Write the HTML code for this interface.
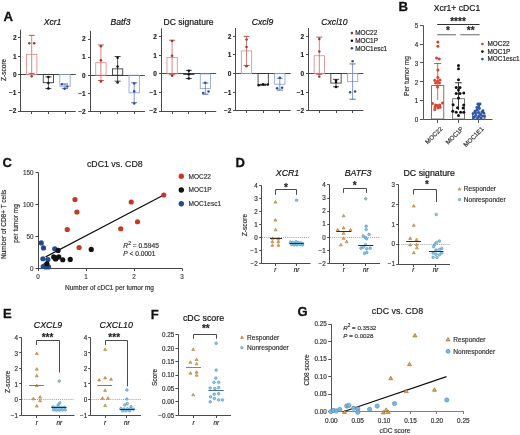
<!DOCTYPE html>
<html><head><meta charset="utf-8"><style>
html,body{margin:0;padding:0;background:#fff;}
svg{display:block;font-family:"Liberation Sans", sans-serif;will-change:transform;}
</style></head><body>
<svg width="520" height="435" viewBox="0 0 520 435">
<rect width="520" height="435" fill="#fff"/>
<line x1="20.5" y1="29.664999999999992" x2="20.5" y2="112.0" stroke="#4a4a4a" stroke-width="1.0"/>
<line x1="18.0" y1="37.5" x2="20.5" y2="37.5" stroke="#4a4a4a" stroke-width="1.0"/>
<text x="16.5" y="40.199999999999996" font-size="6.5" text-anchor="end" font-weight="bold" fill="#222" stroke="#222" stroke-width="0.15">2</text>
<line x1="18.0" y1="56.5" x2="20.5" y2="56.5" stroke="#4a4a4a" stroke-width="1.0"/>
<text x="16.5" y="58.5" font-size="6.5" text-anchor="end" font-weight="bold" fill="#222" stroke="#222" stroke-width="0.15">1</text>
<line x1="18.0" y1="74.5" x2="20.5" y2="74.5" stroke="#4a4a4a" stroke-width="1.0"/>
<text x="16.5" y="76.8" font-size="6.5" text-anchor="end" font-weight="bold" fill="#222" stroke="#222" stroke-width="0.15">0</text>
<line x1="18.0" y1="92.5" x2="20.5" y2="92.5" stroke="#4a4a4a" stroke-width="1.0"/>
<text x="16.5" y="95.1" font-size="6.5" text-anchor="end" font-weight="bold" fill="#222" stroke="#222" stroke-width="0.15">&#8722;1</text>
<line x1="18.0" y1="111.5" x2="20.5" y2="111.5" stroke="#4a4a4a" stroke-width="1.0"/>
<text x="16.5" y="113.39999999999999" font-size="6.5" text-anchor="end" font-weight="bold" fill="#222" stroke="#222" stroke-width="0.15">&#8722;2</text>
<line x1="20.5" y1="111.5" x2="75.8" y2="111.5" stroke="#4a4a4a" stroke-width="1.0"/>
<line x1="31.5" y1="111.5" x2="31.5" y2="114.0" stroke="#4a4a4a" stroke-width="1.0"/>
<line x1="48.5" y1="111.5" x2="48.5" y2="114.0" stroke="#4a4a4a" stroke-width="1.0"/>
<line x1="65.5" y1="111.5" x2="65.5" y2="114.0" stroke="#4a4a4a" stroke-width="1.0"/>
<line x1="20.5" y1="74.5" x2="75.8" y2="74.5" stroke="#4a4a4a" stroke-width="1.0"/>
<text x="52.5" y="25.3" font-size="8.6" text-anchor="middle" font-style="italic" fill="#111" stroke="#111" stroke-width="0.18">Xcr1</text>
<rect x="26.550000000000004" y="54.37" width="10.3" height="20.130000000000003" fill="none" stroke="#e58a8a" stroke-width="0.85"/>
<line x1="31.700000000000003" y1="35.337999999999994" x2="31.700000000000003" y2="73.402" stroke="#cc5a55" stroke-width="0.75"/>
<line x1="28.700000000000003" y1="35.337999999999994" x2="34.7" y2="35.337999999999994" stroke="#a83028" stroke-width="0.8"/>
<line x1="28.700000000000003" y1="73.402" x2="34.7" y2="73.402" stroke="#a83028" stroke-width="0.8"/>
<circle cx="29.300000000000004" cy="43.207" r="1.25" fill="#a83028" stroke="none" stroke-width="0"/>
<circle cx="34.2" cy="43.207" r="1.25" fill="#a83028" stroke="none" stroke-width="0"/>
<circle cx="31.700000000000003" cy="76.147" r="1.25" fill="#a83028" stroke="none" stroke-width="0"/>
<rect x="43.25000000000001" y="74.5" width="10.3" height="8.235" fill="none" stroke="#333" stroke-width="0.85"/>
<line x1="48.400000000000006" y1="76.879" x2="48.400000000000006" y2="88.59100000000001" stroke="#222" stroke-width="0.75"/>
<line x1="45.400000000000006" y1="76.879" x2="51.400000000000006" y2="76.879" stroke="#111" stroke-width="0.8"/>
<line x1="45.400000000000006" y1="88.59100000000001" x2="51.400000000000006" y2="88.59100000000001" stroke="#111" stroke-width="0.8"/>
<circle cx="48.400000000000006" cy="76.879" r="1.25" fill="#111" stroke="none" stroke-width="0"/>
<circle cx="48.400000000000006" cy="82.918" r="1.25" fill="#111" stroke="none" stroke-width="0"/>
<circle cx="48.400000000000006" cy="88.59100000000001" r="1.25" fill="#111" stroke="none" stroke-width="0"/>
<rect x="59.85" y="74.5" width="10.3" height="11.712000000000003" fill="none" stroke="#8aa4d6" stroke-width="0.85"/>
<line x1="65.0" y1="84.016" x2="65.0" y2="88.408" stroke="#5a78b8" stroke-width="0.75"/>
<line x1="62.0" y1="84.016" x2="68.0" y2="84.016" stroke="#2b4f9a" stroke-width="0.8"/>
<line x1="62.0" y1="88.408" x2="68.0" y2="88.408" stroke="#2b4f9a" stroke-width="0.8"/>
<circle cx="61.9" cy="84.199" r="1.25" fill="#2b4f9a" stroke="none" stroke-width="0"/>
<circle cx="64.6" cy="88.774" r="1.25" fill="#2b4f9a" stroke="none" stroke-width="0"/>
<circle cx="67.3" cy="86.578" r="1.25" fill="#2b4f9a" stroke="none" stroke-width="0"/>
<line x1="90.5" y1="30.854999999999997" x2="90.5" y2="112.0" stroke="#4a4a4a" stroke-width="1.0"/>
<line x1="88.0" y1="39.5" x2="90.5" y2="39.5" stroke="#4a4a4a" stroke-width="1.0"/>
<text x="85.7" y="41.3" font-size="6.5" text-anchor="end" font-weight="bold" fill="#222" stroke="#222" stroke-width="0.15">2</text>
<line x1="88.0" y1="57.5" x2="90.5" y2="57.5" stroke="#4a4a4a" stroke-width="1.0"/>
<text x="85.7" y="59.4" font-size="6.5" text-anchor="end" font-weight="bold" fill="#222" stroke="#222" stroke-width="0.15">1</text>
<line x1="88.0" y1="75.5" x2="90.5" y2="75.5" stroke="#4a4a4a" stroke-width="1.0"/>
<text x="85.7" y="77.5" font-size="6.5" text-anchor="end" font-weight="bold" fill="#222" stroke="#222" stroke-width="0.15">0</text>
<line x1="88.0" y1="93.5" x2="90.5" y2="93.5" stroke="#4a4a4a" stroke-width="1.0"/>
<text x="85.7" y="95.60000000000001" font-size="6.5" text-anchor="end" font-weight="bold" fill="#222" stroke="#222" stroke-width="0.15">&#8722;1</text>
<line x1="88.0" y1="111.5" x2="90.5" y2="111.5" stroke="#4a4a4a" stroke-width="1.0"/>
<text x="85.7" y="113.7" font-size="6.5" text-anchor="end" font-weight="bold" fill="#222" stroke="#222" stroke-width="0.15">&#8722;2</text>
<line x1="90.5" y1="111.5" x2="145.0" y2="111.5" stroke="#4a4a4a" stroke-width="1.0"/>
<line x1="100.5" y1="111.5" x2="100.5" y2="114.0" stroke="#4a4a4a" stroke-width="1.0"/>
<line x1="117.5" y1="111.5" x2="117.5" y2="114.0" stroke="#4a4a4a" stroke-width="1.0"/>
<line x1="134.5" y1="111.5" x2="134.5" y2="114.0" stroke="#4a4a4a" stroke-width="1.0"/>
<line x1="90.5" y1="75.5" x2="145.0" y2="75.5" stroke="#4a4a4a" stroke-width="1.0"/>
<text x="120.5" y="25.3" font-size="8.6" text-anchor="middle" font-style="italic" fill="#111" stroke="#111" stroke-width="0.18">Batf3</text>
<rect x="95.75" y="62.711" width="10.3" height="12.489000000000004" fill="none" stroke="#e58a8a" stroke-width="0.85"/>
<line x1="100.9" y1="44.973" x2="100.9" y2="80.449" stroke="#cc5a55" stroke-width="0.75"/>
<line x1="97.9" y1="44.973" x2="103.9" y2="44.973" stroke="#a83028" stroke-width="0.8"/>
<line x1="97.9" y1="80.449" x2="103.9" y2="80.449" stroke="#a83028" stroke-width="0.8"/>
<circle cx="100.9" cy="46.239999999999995" r="1.25" fill="#a83028" stroke="none" stroke-width="0"/>
<circle cx="100.9" cy="60.17700000000001" r="1.25" fill="#a83028" stroke="none" stroke-width="0"/>
<circle cx="100.9" cy="81.535" r="1.25" fill="#a83028" stroke="none" stroke-width="0"/>
<rect x="112.44999999999999" y="68.86500000000001" width="10.3" height="6.334999999999994" fill="none" stroke="#333" stroke-width="0.85"/>
<line x1="117.6" y1="56.557" x2="117.6" y2="81.173" stroke="#222" stroke-width="0.75"/>
<line x1="114.6" y1="56.557" x2="120.6" y2="56.557" stroke="#111" stroke-width="0.8"/>
<line x1="114.6" y1="81.173" x2="120.6" y2="81.173" stroke="#111" stroke-width="0.8"/>
<circle cx="117.6" cy="57.824" r="1.25" fill="#111" stroke="none" stroke-width="0"/>
<circle cx="117.6" cy="66.512" r="1.25" fill="#111" stroke="none" stroke-width="0"/>
<circle cx="117.6" cy="82.44" r="1.25" fill="#111" stroke="none" stroke-width="0"/>
<rect x="129.04999999999998" y="75.2" width="10.3" height="17.557000000000002" fill="none" stroke="#8aa4d6" stroke-width="0.85"/>
<line x1="134.2" y1="82.802" x2="134.2" y2="102.712" stroke="#5a78b8" stroke-width="0.75"/>
<line x1="131.2" y1="82.802" x2="137.2" y2="82.802" stroke="#2b4f9a" stroke-width="0.8"/>
<line x1="131.2" y1="102.712" x2="137.2" y2="102.712" stroke="#2b4f9a" stroke-width="0.8"/>
<circle cx="134.2" cy="83.52600000000001" r="1.25" fill="#2b4f9a" stroke="none" stroke-width="0"/>
<circle cx="134.2" cy="91.309" r="1.25" fill="#2b4f9a" stroke="none" stroke-width="0"/>
<circle cx="134.2" cy="103.617" r="1.25" fill="#2b4f9a" stroke="none" stroke-width="0"/>
<line x1="161.5" y1="28.33" x2="161.5" y2="112.0" stroke="#4a4a4a" stroke-width="1.0"/>
<line x1="159.0" y1="36.5" x2="161.5" y2="36.5" stroke="#4a4a4a" stroke-width="1.0"/>
<text x="156.89999999999998" y="39.0" font-size="6.5" text-anchor="end" font-weight="bold" fill="#222" stroke="#222" stroke-width="0.15">2</text>
<line x1="159.0" y1="55.5" x2="161.5" y2="55.5" stroke="#4a4a4a" stroke-width="1.0"/>
<text x="156.89999999999998" y="57.6" font-size="6.5" text-anchor="end" font-weight="bold" fill="#222" stroke="#222" stroke-width="0.15">1</text>
<line x1="159.0" y1="73.5" x2="161.5" y2="73.5" stroke="#4a4a4a" stroke-width="1.0"/>
<text x="156.89999999999998" y="76.2" font-size="6.5" text-anchor="end" font-weight="bold" fill="#222" stroke="#222" stroke-width="0.15">0</text>
<line x1="159.0" y1="92.5" x2="161.5" y2="92.5" stroke="#4a4a4a" stroke-width="1.0"/>
<text x="156.89999999999998" y="94.8" font-size="6.5" text-anchor="end" font-weight="bold" fill="#222" stroke="#222" stroke-width="0.15">&#8722;1</text>
<line x1="159.0" y1="111.5" x2="161.5" y2="111.5" stroke="#4a4a4a" stroke-width="1.0"/>
<text x="156.89999999999998" y="113.4" font-size="6.5" text-anchor="end" font-weight="bold" fill="#222" stroke="#222" stroke-width="0.15">&#8722;2</text>
<line x1="161.5" y1="111.5" x2="216.2" y2="111.5" stroke="#4a4a4a" stroke-width="1.0"/>
<line x1="172.5" y1="111.5" x2="172.5" y2="114.0" stroke="#4a4a4a" stroke-width="1.0"/>
<line x1="188.5" y1="111.5" x2="188.5" y2="114.0" stroke="#4a4a4a" stroke-width="1.0"/>
<line x1="205.5" y1="111.5" x2="205.5" y2="114.0" stroke="#4a4a4a" stroke-width="1.0"/>
<line x1="161.5" y1="73.5" x2="216.2" y2="73.5" stroke="#4a4a4a" stroke-width="1.0"/>
<text x="188.5" y="25.3" font-size="8.6" text-anchor="middle" fill="#111" stroke="#111" stroke-width="0.18">DC signature</text>
<rect x="166.95" y="57.532000000000004" width="10.3" height="16.368000000000002" fill="none" stroke="#e58a8a" stroke-width="0.85"/>
<line x1="172.1" y1="40.234" x2="172.1" y2="74.83000000000001" stroke="#cc5a55" stroke-width="0.75"/>
<line x1="169.1" y1="40.234" x2="175.1" y2="40.234" stroke="#a83028" stroke-width="0.8"/>
<line x1="169.1" y1="74.83000000000001" x2="175.1" y2="74.83000000000001" stroke="#a83028" stroke-width="0.8"/>
<circle cx="172.1" cy="40.978" r="1.25" fill="#a83028" stroke="none" stroke-width="0"/>
<circle cx="172.1" cy="55.858000000000004" r="1.25" fill="#a83028" stroke="none" stroke-width="0"/>
<circle cx="172.1" cy="75.76" r="1.25" fill="#a83028" stroke="none" stroke-width="0"/>
<rect x="183.64999999999998" y="73.9" width="10.3" height="0.5580000000000069" fill="none" stroke="#333" stroke-width="0.85"/>
<line x1="188.79999999999998" y1="70.366" x2="188.79999999999998" y2="78.55000000000001" stroke="#222" stroke-width="0.75"/>
<line x1="185.79999999999998" y1="70.366" x2="191.79999999999998" y2="70.366" stroke="#111" stroke-width="0.8"/>
<line x1="185.79999999999998" y1="78.55000000000001" x2="191.79999999999998" y2="78.55000000000001" stroke="#111" stroke-width="0.8"/>
<circle cx="188.79999999999998" cy="70.738" r="1.25" fill="#111" stroke="none" stroke-width="0"/>
<circle cx="188.79999999999998" cy="74.272" r="1.25" fill="#111" stroke="none" stroke-width="0"/>
<circle cx="188.79999999999998" cy="78.55000000000001" r="1.25" fill="#111" stroke="none" stroke-width="0"/>
<rect x="200.24999999999997" y="73.9" width="10.3" height="14.694000000000003" fill="none" stroke="#8aa4d6" stroke-width="0.85"/>
<line x1="205.39999999999998" y1="83.01400000000001" x2="205.39999999999998" y2="94.174" stroke="#5a78b8" stroke-width="0.75"/>
<line x1="202.39999999999998" y1="83.01400000000001" x2="208.39999999999998" y2="83.01400000000001" stroke="#2b4f9a" stroke-width="0.8"/>
<line x1="202.39999999999998" y1="94.174" x2="208.39999999999998" y2="94.174" stroke="#2b4f9a" stroke-width="0.8"/>
<circle cx="205.29999999999998" cy="82.828" r="1.25" fill="#2b4f9a" stroke="none" stroke-width="0"/>
<circle cx="203.2" cy="93.058" r="1.25" fill="#2b4f9a" stroke="none" stroke-width="0"/>
<circle cx="208.49999999999997" cy="91.57000000000001" r="1.25" fill="#2b4f9a" stroke="none" stroke-width="0"/>
<line x1="235.5" y1="28.029999999999987" x2="235.5" y2="111.0" stroke="#4a4a4a" stroke-width="1.0"/>
<line x1="233.0" y1="36.5" x2="235.5" y2="36.5" stroke="#4a4a4a" stroke-width="1.0"/>
<text x="231.29999999999998" y="38.69999999999999" font-size="6.5" text-anchor="end" font-weight="bold" fill="#222" stroke="#222" stroke-width="0.15">2</text>
<line x1="233.0" y1="54.5" x2="235.5" y2="54.5" stroke="#4a4a4a" stroke-width="1.0"/>
<text x="231.29999999999998" y="57.29999999999999" font-size="6.5" text-anchor="end" font-weight="bold" fill="#222" stroke="#222" stroke-width="0.15">1</text>
<line x1="233.0" y1="73.5" x2="235.5" y2="73.5" stroke="#4a4a4a" stroke-width="1.0"/>
<text x="231.29999999999998" y="75.89999999999999" font-size="6.5" text-anchor="end" font-weight="bold" fill="#222" stroke="#222" stroke-width="0.15">0</text>
<line x1="233.0" y1="92.5" x2="235.5" y2="92.5" stroke="#4a4a4a" stroke-width="1.0"/>
<text x="231.29999999999998" y="94.49999999999999" font-size="6.5" text-anchor="end" font-weight="bold" fill="#222" stroke="#222" stroke-width="0.15">&#8722;1</text>
<line x1="233.0" y1="110.5" x2="235.5" y2="110.5" stroke="#4a4a4a" stroke-width="1.0"/>
<text x="231.29999999999998" y="113.1" font-size="6.5" text-anchor="end" font-weight="bold" fill="#222" stroke="#222" stroke-width="0.15">&#8722;2</text>
<line x1="235.5" y1="110.5" x2="290.6" y2="110.5" stroke="#4a4a4a" stroke-width="1.0"/>
<line x1="246.5" y1="110.5" x2="246.5" y2="113.0" stroke="#4a4a4a" stroke-width="1.0"/>
<line x1="263.5" y1="110.5" x2="263.5" y2="113.0" stroke="#4a4a4a" stroke-width="1.0"/>
<line x1="279.5" y1="110.5" x2="279.5" y2="113.0" stroke="#4a4a4a" stroke-width="1.0"/>
<line x1="235.5" y1="73.5" x2="290.6" y2="73.5" stroke="#4a4a4a" stroke-width="1.0"/>
<text x="262.5" y="25.3" font-size="8.6" text-anchor="middle" font-style="italic" fill="#111" stroke="#111" stroke-width="0.18">Cxcl9</text>
<rect x="241.35" y="50.907999999999994" width="10.3" height="22.692" fill="none" stroke="#e58a8a" stroke-width="0.85"/>
<line x1="246.5" y1="36.39999999999999" x2="246.5" y2="65.416" stroke="#cc5a55" stroke-width="0.75"/>
<line x1="243.5" y1="36.39999999999999" x2="249.5" y2="36.39999999999999" stroke="#a83028" stroke-width="0.8"/>
<line x1="243.5" y1="65.416" x2="249.5" y2="65.416" stroke="#a83028" stroke-width="0.8"/>
<circle cx="246.5" cy="39.56199999999999" r="1.25" fill="#a83028" stroke="none" stroke-width="0"/>
<circle cx="246.5" cy="47.001999999999995" r="1.25" fill="#a83028" stroke="none" stroke-width="0"/>
<circle cx="246.5" cy="66.34599999999999" r="1.25" fill="#a83028" stroke="none" stroke-width="0"/>
<rect x="258.05" y="73.6" width="10.3" height="11.159999999999997" fill="none" stroke="#333" stroke-width="0.85"/>
<line x1="263.2" y1="84.202" x2="263.2" y2="85.318" stroke="#222" stroke-width="0.75"/>
<line x1="260.2" y1="84.202" x2="266.2" y2="84.202" stroke="#111" stroke-width="0.8"/>
<line x1="260.2" y1="85.318" x2="266.2" y2="85.318" stroke="#111" stroke-width="0.8"/>
<circle cx="258.7" cy="85.13199999999999" r="1.25" fill="#111" stroke="none" stroke-width="0"/>
<circle cx="263.2" cy="84.202" r="1.25" fill="#111" stroke="none" stroke-width="0"/>
<circle cx="267.8" cy="84.574" r="1.25" fill="#111" stroke="none" stroke-width="0"/>
<rect x="274.65000000000003" y="73.6" width="10.3" height="10.602000000000004" fill="none" stroke="#8aa4d6" stroke-width="0.85"/>
<line x1="279.8" y1="78.25" x2="279.8" y2="90.154" stroke="#5a78b8" stroke-width="0.75"/>
<line x1="276.8" y1="78.25" x2="282.8" y2="78.25" stroke="#2b4f9a" stroke-width="0.8"/>
<line x1="276.8" y1="90.154" x2="282.8" y2="90.154" stroke="#2b4f9a" stroke-width="0.8"/>
<circle cx="279.8" cy="77.692" r="1.25" fill="#2b4f9a" stroke="none" stroke-width="0"/>
<circle cx="277.1" cy="88.294" r="1.25" fill="#2b4f9a" stroke="none" stroke-width="0"/>
<circle cx="282.1" cy="87.73599999999999" r="1.25" fill="#2b4f9a" stroke="none" stroke-width="0"/>
<line x1="308.5" y1="28.029999999999987" x2="308.5" y2="111.0" stroke="#4a4a4a" stroke-width="1.0"/>
<line x1="306.0" y1="36.5" x2="308.5" y2="36.5" stroke="#4a4a4a" stroke-width="1.0"/>
<text x="304.09999999999997" y="38.69999999999999" font-size="6.5" text-anchor="end" font-weight="bold" fill="#222" stroke="#222" stroke-width="0.15">2</text>
<line x1="306.0" y1="54.5" x2="308.5" y2="54.5" stroke="#4a4a4a" stroke-width="1.0"/>
<text x="304.09999999999997" y="57.29999999999999" font-size="6.5" text-anchor="end" font-weight="bold" fill="#222" stroke="#222" stroke-width="0.15">1</text>
<line x1="306.0" y1="73.5" x2="308.5" y2="73.5" stroke="#4a4a4a" stroke-width="1.0"/>
<text x="304.09999999999997" y="75.89999999999999" font-size="6.5" text-anchor="end" font-weight="bold" fill="#222" stroke="#222" stroke-width="0.15">0</text>
<line x1="306.0" y1="92.5" x2="308.5" y2="92.5" stroke="#4a4a4a" stroke-width="1.0"/>
<text x="304.09999999999997" y="94.49999999999999" font-size="6.5" text-anchor="end" font-weight="bold" fill="#222" stroke="#222" stroke-width="0.15">&#8722;1</text>
<line x1="306.0" y1="110.5" x2="308.5" y2="110.5" stroke="#4a4a4a" stroke-width="1.0"/>
<text x="304.09999999999997" y="113.1" font-size="6.5" text-anchor="end" font-weight="bold" fill="#222" stroke="#222" stroke-width="0.15">&#8722;2</text>
<line x1="308.5" y1="110.5" x2="363.4" y2="110.5" stroke="#4a4a4a" stroke-width="1.0"/>
<line x1="319.5" y1="110.5" x2="319.5" y2="113.0" stroke="#4a4a4a" stroke-width="1.0"/>
<line x1="336.5" y1="110.5" x2="336.5" y2="113.0" stroke="#4a4a4a" stroke-width="1.0"/>
<line x1="352.5" y1="110.5" x2="352.5" y2="113.0" stroke="#4a4a4a" stroke-width="1.0"/>
<line x1="308.5" y1="73.5" x2="363.4" y2="73.5" stroke="#4a4a4a" stroke-width="1.0"/>
<text x="334.5" y="25.3" font-size="8.6" text-anchor="middle" font-style="italic" fill="#111" stroke="#111" stroke-width="0.18">Cxcl10</text>
<rect x="314.15" y="55.74399999999999" width="10.3" height="17.856" fill="none" stroke="#e58a8a" stroke-width="0.85"/>
<line x1="319.29999999999995" y1="37.14399999999999" x2="319.29999999999995" y2="74.344" stroke="#cc5a55" stroke-width="0.75"/>
<line x1="316.29999999999995" y1="37.14399999999999" x2="322.29999999999995" y2="37.14399999999999" stroke="#a83028" stroke-width="0.8"/>
<line x1="316.29999999999995" y1="74.344" x2="322.29999999999995" y2="74.344" stroke="#a83028" stroke-width="0.8"/>
<circle cx="319.29999999999995" cy="39.00399999999999" r="1.25" fill="#a83028" stroke="none" stroke-width="0"/>
<circle cx="319.29999999999995" cy="51.465999999999994" r="1.25" fill="#a83028" stroke="none" stroke-width="0"/>
<circle cx="319.29999999999995" cy="76.576" r="1.25" fill="#a83028" stroke="none" stroke-width="0"/>
<rect x="330.85" y="73.6" width="10.3" height="9.486000000000004" fill="none" stroke="#333" stroke-width="0.85"/>
<line x1="336.0" y1="79.366" x2="336.0" y2="86.806" stroke="#222" stroke-width="0.75"/>
<line x1="333.0" y1="79.366" x2="339.0" y2="79.366" stroke="#111" stroke-width="0.8"/>
<line x1="333.0" y1="86.806" x2="339.0" y2="86.806" stroke="#111" stroke-width="0.8"/>
<circle cx="336.0" cy="80.482" r="1.25" fill="#111" stroke="none" stroke-width="0"/>
<circle cx="336.0" cy="81.97" r="1.25" fill="#111" stroke="none" stroke-width="0"/>
<circle cx="336.0" cy="86.99199999999999" r="1.25" fill="#111" stroke="none" stroke-width="0"/>
<rect x="347.45" y="73.6" width="10.3" height="7.998000000000005" fill="none" stroke="#8aa4d6" stroke-width="0.85"/>
<line x1="352.59999999999997" y1="63.928" x2="352.59999999999997" y2="99.268" stroke="#5a78b8" stroke-width="0.75"/>
<line x1="349.59999999999997" y1="63.928" x2="355.59999999999997" y2="63.928" stroke="#2b4f9a" stroke-width="0.8"/>
<line x1="349.59999999999997" y1="99.268" x2="355.59999999999997" y2="99.268" stroke="#2b4f9a" stroke-width="0.8"/>
<circle cx="352.59999999999997" cy="61.32399999999999" r="1.25" fill="#2b4f9a" stroke="none" stroke-width="0"/>
<circle cx="350.09999999999997" cy="92.19999999999999" r="1.25" fill="#2b4f9a" stroke="none" stroke-width="0"/>
<circle cx="355.09999999999997" cy="91.45599999999999" r="1.25" fill="#2b4f9a" stroke="none" stroke-width="0"/>
<circle cx="351.9" cy="33.1" r="1.3" fill="#a83028" stroke="none" stroke-width="0"/>
<text x="355.2" y="35.4" font-size="6.4" text-anchor="start" fill="#222" stroke="#222" stroke-width="0.18">MOC22</text>
<circle cx="351.9" cy="40.7" r="1.3" fill="#111" stroke="none" stroke-width="0"/>
<text x="355.2" y="43.0" font-size="6.4" text-anchor="start" fill="#222" stroke="#222" stroke-width="0.18">MOC1P</text>
<circle cx="351.9" cy="48.3" r="1.3" fill="#2b4f9a" stroke="none" stroke-width="0"/>
<text x="355.2" y="50.599999999999994" font-size="6.4" text-anchor="start" fill="#222" stroke="#222" stroke-width="0.18">MOC1esc1</text>
<text x="3.4" y="21.3" font-size="13.2" text-anchor="start" font-weight="bold" fill="#111" stroke="#111" stroke-width="0.3">A</text>
<text x="6.3" y="69.9" font-size="6.6" text-anchor="middle" fill="#333" stroke="#333" stroke-width="0.18" transform="rotate(-90 6.3 69.9)">Z-score</text>
<text x="398.4" y="11.2" font-size="13.2" text-anchor="start" font-weight="bold" fill="#111" stroke="#111" stroke-width="0.3">B</text>
<text x="457" y="11" font-size="8.6" text-anchor="middle" fill="#111" stroke="#111" stroke-width="0.18">Xcr1+ cDC1</text>
<line x1="423.5" y1="25.5" x2="423.5" y2="119.5" stroke="#555" stroke-width="1.0"/>
<line x1="419.9" y1="119.5" x2="423.5" y2="119.5" stroke="#555" stroke-width="1.0"/>
<text x="418.29999999999995" y="122.0" font-size="6.3" text-anchor="end" fill="#333" stroke="#333" stroke-width="0.18">0</text>
<line x1="419.9" y1="100.5" x2="423.5" y2="100.5" stroke="#555" stroke-width="1.0"/>
<text x="418.29999999999995" y="103.25" font-size="6.3" text-anchor="end" fill="#333" stroke="#333" stroke-width="0.18">1</text>
<line x1="419.9" y1="81.5" x2="423.5" y2="81.5" stroke="#555" stroke-width="1.0"/>
<text x="418.29999999999995" y="84.5" font-size="6.3" text-anchor="end" fill="#333" stroke="#333" stroke-width="0.18">2</text>
<line x1="419.9" y1="62.5" x2="423.5" y2="62.5" stroke="#555" stroke-width="1.0"/>
<text x="418.29999999999995" y="65.75" font-size="6.3" text-anchor="end" fill="#333" stroke="#333" stroke-width="0.18">3</text>
<line x1="419.9" y1="44.5" x2="423.5" y2="44.5" stroke="#555" stroke-width="1.0"/>
<text x="418.29999999999995" y="47.0" font-size="6.3" text-anchor="end" fill="#333" stroke="#333" stroke-width="0.18">4</text>
<line x1="419.9" y1="25.5" x2="423.5" y2="25.5" stroke="#555" stroke-width="1.0"/>
<text x="418.29999999999995" y="28.25" font-size="6.3" text-anchor="end" fill="#333" stroke="#333" stroke-width="0.18">5</text>
<line x1="423.5" y1="119.5" x2="492.5" y2="119.5" stroke="#555" stroke-width="1.0"/>
<line x1="437.5" y1="119.5" x2="437.5" y2="122.9" stroke="#555" stroke-width="1.0"/>
<line x1="458.5" y1="119.5" x2="458.5" y2="122.9" stroke="#555" stroke-width="1.0"/>
<line x1="478.5" y1="119.5" x2="478.5" y2="122.9" stroke="#555" stroke-width="1.0"/>
<line x1="437.2" y1="24.5" x2="479.6" y2="24.5" stroke="#333" stroke-width="1.0"/>
<text x="458.0" y="24.6" font-size="10" text-anchor="middle" font-weight="bold" fill="#222" stroke="#222" stroke-width="0.15">****</text>
<line x1="437.2" y1="34.7" x2="456.0" y2="34.7" stroke="#888" stroke-width="1.3"/>
<text x="447.9" y="34.3" font-size="10" text-anchor="middle" font-weight="bold" fill="#222" stroke="#222" stroke-width="0.15">*</text>
<line x1="460.2" y1="34.7" x2="479.6" y2="34.7" stroke="#888" stroke-width="1.3"/>
<text x="470.75" y="34.3" font-size="10" text-anchor="middle" font-weight="bold" fill="#222" stroke="#222" stroke-width="0.15">**</text>
<text x="408.6" y="76" font-size="6.6" text-anchor="middle" fill="#333" stroke="#333" stroke-width="0.18" transform="rotate(-90 408.6 76)">Per tumor mg</text>
<rect x="431.6" y="85.625" width="12.2" height="33.375" fill="none" stroke="#555" stroke-width="0.8"/>
<rect x="452.7" y="98.75" width="11.7" height="20.25" fill="none" stroke="#555" stroke-width="0.8"/>
<rect x="472.6" y="113.0" width="12.3" height="6.0" fill="none" stroke="#555" stroke-width="0.8"/>
<line x1="437.7" y1="63.5" x2="437.7" y2="100" stroke="#d9402e" stroke-width="0.8"/>
<line x1="434.2" y1="63.5" x2="441.2" y2="63.5" stroke="#d9402e" stroke-width="0.9"/>
<line x1="458.5" y1="82.8" x2="458.5" y2="110" stroke="#111" stroke-width="0.8"/>
<line x1="455.2" y1="82.8" x2="461.8" y2="82.8" stroke="#111" stroke-width="0.9"/>
<line x1="478.8" y1="104.2" x2="478.8" y2="117" stroke="#2c55a6" stroke-width="0.8"/>
<line x1="476.2" y1="104.2" x2="481.40000000000003" y2="104.2" stroke="#2c55a6" stroke-width="0.9"/>
<circle cx="437.9" cy="41.9" r="1.5" fill="#d9402e" stroke="none" stroke-width="0"/>
<circle cx="437.9" cy="46.25" r="1.5" fill="#d9402e" stroke="none" stroke-width="0"/>
<circle cx="436.6" cy="57.9" r="1.5" fill="#d9402e" stroke="none" stroke-width="0"/>
<circle cx="439.3" cy="58.9" r="1.5" fill="#d9402e" stroke="none" stroke-width="0"/>
<circle cx="437.9" cy="70" r="1.5" fill="#d9402e" stroke="none" stroke-width="0"/>
<circle cx="437.9" cy="77.5" r="1.5" fill="#d9402e" stroke="none" stroke-width="0"/>
<circle cx="434.75" cy="80.25" r="1.5" fill="#d9402e" stroke="none" stroke-width="0"/>
<circle cx="440" cy="80" r="1.5" fill="#d9402e" stroke="none" stroke-width="0"/>
<circle cx="437.5" cy="81.25" r="1.5" fill="#d9402e" stroke="none" stroke-width="0"/>
<circle cx="435.6" cy="83.1" r="1.5" fill="#d9402e" stroke="none" stroke-width="0"/>
<circle cx="439.4" cy="83.1" r="1.5" fill="#d9402e" stroke="none" stroke-width="0"/>
<circle cx="437.5" cy="86.9" r="1.5" fill="#d9402e" stroke="none" stroke-width="0"/>
<circle cx="432.5" cy="103.5" r="1.5" fill="#d9402e" stroke="none" stroke-width="0"/>
<circle cx="442.5" cy="103.1" r="1.5" fill="#d9402e" stroke="none" stroke-width="0"/>
<circle cx="435.6" cy="105" r="1.5" fill="#d9402e" stroke="none" stroke-width="0"/>
<circle cx="437.5" cy="105.4" r="1.5" fill="#d9402e" stroke="none" stroke-width="0"/>
<circle cx="439.75" cy="105" r="1.5" fill="#d9402e" stroke="none" stroke-width="0"/>
<circle cx="435" cy="106.9" r="1.5" fill="#d9402e" stroke="none" stroke-width="0"/>
<circle cx="437.9" cy="107.75" r="1.5" fill="#d9402e" stroke="none" stroke-width="0"/>
<circle cx="440" cy="107.25" r="1.5" fill="#d9402e" stroke="none" stroke-width="0"/>
<circle cx="434.75" cy="109.4" r="1.5" fill="#d9402e" stroke="none" stroke-width="0"/>
<circle cx="458.5" cy="65.4" r="1.5" fill="#111" stroke="none" stroke-width="0"/>
<circle cx="458.5" cy="68.75" r="1.5" fill="#111" stroke="none" stroke-width="0"/>
<circle cx="458.5" cy="79.75" r="1.5" fill="#111" stroke="none" stroke-width="0"/>
<circle cx="456.25" cy="87.5" r="1.5" fill="#111" stroke="none" stroke-width="0"/>
<circle cx="460" cy="87.5" r="1.5" fill="#111" stroke="none" stroke-width="0"/>
<circle cx="458.5" cy="90" r="1.5" fill="#111" stroke="none" stroke-width="0"/>
<circle cx="456.25" cy="93.4" r="1.5" fill="#111" stroke="none" stroke-width="0"/>
<circle cx="460" cy="93.4" r="1.5" fill="#111" stroke="none" stroke-width="0"/>
<circle cx="463.75" cy="93.1" r="1.5" fill="#111" stroke="none" stroke-width="0"/>
<circle cx="458.5" cy="98.1" r="1.5" fill="#111" stroke="none" stroke-width="0"/>
<circle cx="453.1" cy="104.75" r="1.5" fill="#111" stroke="none" stroke-width="0"/>
<circle cx="463.75" cy="105" r="1.5" fill="#111" stroke="none" stroke-width="0"/>
<circle cx="457.5" cy="107.75" r="1.5" fill="#111" stroke="none" stroke-width="0"/>
<circle cx="463.1" cy="108.1" r="1.5" fill="#111" stroke="none" stroke-width="0"/>
<circle cx="452.75" cy="111.25" r="1.5" fill="#111" stroke="none" stroke-width="0"/>
<circle cx="456.25" cy="112.25" r="1.5" fill="#111" stroke="none" stroke-width="0"/>
<circle cx="460.6" cy="112.25" r="1.5" fill="#111" stroke="none" stroke-width="0"/>
<circle cx="463.75" cy="112.25" r="1.5" fill="#111" stroke="none" stroke-width="0"/>
<circle cx="458.5" cy="115.6" r="1.5" fill="#111" stroke="none" stroke-width="0"/>
<circle cx="478.1" cy="104" r="1.45" fill="#2c55a6" stroke="none" stroke-width="0"/>
<circle cx="480" cy="104" r="1.45" fill="#2c55a6" stroke="none" stroke-width="0"/>
<circle cx="476.9" cy="107.5" r="1.45" fill="#2c55a6" stroke="none" stroke-width="0"/>
<circle cx="479.4" cy="108.5" r="1.45" fill="#2c55a6" stroke="none" stroke-width="0"/>
<circle cx="475" cy="111.25" r="1.45" fill="#2c55a6" stroke="none" stroke-width="0"/>
<circle cx="481.9" cy="111.9" r="1.45" fill="#2c55a6" stroke="none" stroke-width="0"/>
<circle cx="473.1" cy="113.75" r="1.45" fill="#2c55a6" stroke="none" stroke-width="0"/>
<circle cx="483.75" cy="113.1" r="1.45" fill="#2c55a6" stroke="none" stroke-width="0"/>
<circle cx="477" cy="110" r="1.45" fill="#2c55a6" stroke="none" stroke-width="0"/>
<circle cx="478.5" cy="112.5" r="1.45" fill="#2c55a6" stroke="none" stroke-width="0"/>
<circle cx="480.5" cy="114.5" r="1.45" fill="#2c55a6" stroke="none" stroke-width="0"/>
<circle cx="476" cy="115.5" r="1.45" fill="#2c55a6" stroke="none" stroke-width="0"/>
<circle cx="474.5" cy="116.8" r="1.45" fill="#2c55a6" stroke="none" stroke-width="0"/>
<circle cx="479" cy="116.5" r="1.45" fill="#2c55a6" stroke="none" stroke-width="0"/>
<circle cx="482.5" cy="116" r="1.45" fill="#2c55a6" stroke="none" stroke-width="0"/>
<circle cx="484.5" cy="116.5" r="1.45" fill="#2c55a6" stroke="none" stroke-width="0"/>
<circle cx="473.5" cy="117.5" r="1.45" fill="#2c55a6" stroke="none" stroke-width="0"/>
<circle cx="477.5" cy="118" r="1.45" fill="#2c55a6" stroke="none" stroke-width="0"/>
<circle cx="481" cy="118" r="1.45" fill="#2c55a6" stroke="none" stroke-width="0"/>
<circle cx="475.5" cy="113" r="1.45" fill="#2c55a6" stroke="none" stroke-width="0"/>
<circle cx="483" cy="110.8" r="1.45" fill="#2c55a6" stroke="none" stroke-width="0"/>
<circle cx="478.8" cy="106" r="1.45" fill="#2c55a6" stroke="none" stroke-width="0"/>
<circle cx="482.4" cy="44.0" r="1.35" fill="#d9402e" stroke="none" stroke-width="0"/>
<text x="487.5" y="46.3" font-size="6.4" text-anchor="start" fill="#222" stroke="#222" stroke-width="0.18">MOC22</text>
<circle cx="482.4" cy="51.55" r="1.35" fill="#111" stroke="none" stroke-width="0"/>
<text x="487.5" y="53.849999999999994" font-size="6.4" text-anchor="start" fill="#222" stroke="#222" stroke-width="0.18">MOC1P</text>
<circle cx="482.4" cy="59.1" r="1.35" fill="#2c55a6" stroke="none" stroke-width="0"/>
<text x="487.5" y="61.4" font-size="6.4" text-anchor="start" fill="#222" stroke="#222" stroke-width="0.18">MOC1esc1</text>
<text x="442.90000000000003" y="129.3" font-size="6.2" text-anchor="end" fill="#333" stroke="#333" stroke-width="0.18" transform="rotate(-45 442.90000000000003 129.3)">MOC22</text>
<text x="463.8" y="129.3" font-size="6.2" text-anchor="end" fill="#333" stroke="#333" stroke-width="0.18" transform="rotate(-45 463.8 129.3)">MOC1P</text>
<text x="484.1" y="129.3" font-size="6.2" text-anchor="end" fill="#333" stroke="#333" stroke-width="0.18" transform="rotate(-45 484.1 129.3)">MOC1E1</text>
<text x="2.6" y="167.2" font-size="13.0" text-anchor="start" font-weight="bold" fill="#111" stroke="#111" stroke-width="0.3">C</text>
<text x="114.8" y="166.8" font-size="8.8" text-anchor="middle" fill="#222" stroke="#222" stroke-width="0.18">cDC1 vs. CD8</text>
<line x1="38.5" y1="172.5" x2="38.5" y2="268.5" stroke="#444" stroke-width="1.0"/>
<line x1="35.5" y1="268.5" x2="38.5" y2="268.5" stroke="#444" stroke-width="1.0"/>
<text x="33.5" y="271.1" font-size="6.3" text-anchor="end" fill="#444" stroke="#444" stroke-width="0.18">0</text>
<line x1="35.5" y1="236.5" x2="38.5" y2="236.5" stroke="#444" stroke-width="1.0"/>
<text x="33.5" y="239.10000000000002" font-size="6.3" text-anchor="end" fill="#444" stroke="#444" stroke-width="0.18">50</text>
<line x1="35.5" y1="204.5" x2="38.5" y2="204.5" stroke="#444" stroke-width="1.0"/>
<text x="33.5" y="207.10000000000002" font-size="6.3" text-anchor="end" fill="#444" stroke="#444" stroke-width="0.18">100</text>
<line x1="35.5" y1="172.5" x2="38.5" y2="172.5" stroke="#444" stroke-width="1.0"/>
<text x="33.5" y="175.10000000000002" font-size="6.3" text-anchor="end" fill="#444" stroke="#444" stroke-width="0.18">150</text>
<line x1="38.5" y1="268.5" x2="182.1" y2="268.5" stroke="#444" stroke-width="1.0"/>
<line x1="38.5" y1="268.5" x2="38.5" y2="271.0" stroke="#444" stroke-width="1.0"/>
<text x="38.1" y="279.20000000000005" font-size="6.3" text-anchor="middle" fill="#444" stroke="#444" stroke-width="0.18">0</text>
<line x1="86.5" y1="268.5" x2="86.5" y2="271.0" stroke="#444" stroke-width="1.0"/>
<text x="86.1" y="279.20000000000005" font-size="6.3" text-anchor="middle" fill="#444" stroke="#444" stroke-width="0.18">1</text>
<line x1="134.5" y1="268.5" x2="134.5" y2="271.0" stroke="#444" stroke-width="1.0"/>
<text x="134.1" y="279.20000000000005" font-size="6.3" text-anchor="middle" fill="#444" stroke="#444" stroke-width="0.18">2</text>
<line x1="182.5" y1="268.5" x2="182.5" y2="271.0" stroke="#444" stroke-width="1.0"/>
<text x="182.1" y="279.20000000000005" font-size="6.3" text-anchor="middle" fill="#444" stroke="#444" stroke-width="0.18">3</text>
<text x="109.5" y="289.8" font-size="6.5" text-anchor="middle" fill="#333" stroke="#333" stroke-width="0.18">Number of cDC1 per tumor mg</text>
<text x="6.4" y="224.3" font-size="6.5" text-anchor="middle" fill="#333" stroke="#333" stroke-width="0.18" transform="rotate(-90 6.4 224.3)">Number of CD8+ T cells</text>
<text x="17.7" y="223.5" font-size="6.5" text-anchor="middle" fill="#333" stroke="#333" stroke-width="0.18" transform="rotate(-90 17.7 223.5)">per tumor mg</text>
<line x1="45.6" y1="256.9" x2="163.75" y2="195.0" stroke="#111" stroke-width="1.3"/>
<circle cx="41.25" cy="242.9" r="2.6" fill="#24498e" stroke="none" stroke-width="0"/>
<circle cx="43.5" cy="247.9" r="2.6" fill="#24498e" stroke="none" stroke-width="0"/>
<circle cx="54.75" cy="248.75" r="2.6" fill="#24498e" stroke="none" stroke-width="0"/>
<circle cx="42.9" cy="258.75" r="2.6" fill="#24498e" stroke="none" stroke-width="0"/>
<circle cx="47.9" cy="259.6" r="2.6" fill="#24498e" stroke="none" stroke-width="0"/>
<circle cx="45" cy="265.6" r="2.6" fill="#24498e" stroke="none" stroke-width="0"/>
<circle cx="48.5" cy="266.9" r="2.6" fill="#24498e" stroke="none" stroke-width="0"/>
<circle cx="45.6" cy="266.9" r="2.6" fill="#24498e" stroke="none" stroke-width="0"/>
<circle cx="43.2" cy="266.5" r="2.6" fill="#24498e" stroke="none" stroke-width="0"/>
<circle cx="58.1" cy="250.4" r="2.6" fill="#111" stroke="none" stroke-width="0"/>
<circle cx="53.75" cy="256.9" r="2.6" fill="#111" stroke="none" stroke-width="0"/>
<circle cx="56.25" cy="258.1" r="2.6" fill="#111" stroke="none" stroke-width="0"/>
<circle cx="58.75" cy="256.9" r="2.6" fill="#111" stroke="none" stroke-width="0"/>
<circle cx="62.75" cy="259.75" r="2.6" fill="#111" stroke="none" stroke-width="0"/>
<circle cx="70.25" cy="259.4" r="2.6" fill="#111" stroke="none" stroke-width="0"/>
<circle cx="91.25" cy="249.4" r="2.6" fill="#111" stroke="none" stroke-width="0"/>
<circle cx="46.9" cy="263.75" r="2.6" fill="#111" stroke="none" stroke-width="0"/>
<circle cx="55.5" cy="259" r="2.6" fill="#111" stroke="none" stroke-width="0"/>
<circle cx="75" cy="199.5" r="2.6" fill="#c4382a" stroke="none" stroke-width="0"/>
<circle cx="76.9" cy="212" r="2.6" fill="#c4382a" stroke="none" stroke-width="0"/>
<circle cx="67.25" cy="229.5" r="2.6" fill="#c4382a" stroke="none" stroke-width="0"/>
<circle cx="79.1" cy="247.5" r="2.6" fill="#c4382a" stroke="none" stroke-width="0"/>
<circle cx="120.75" cy="228.75" r="2.6" fill="#c4382a" stroke="none" stroke-width="0"/>
<circle cx="131.25" cy="202" r="2.6" fill="#c4382a" stroke="none" stroke-width="0"/>
<circle cx="163.75" cy="195" r="2.6" fill="#c4382a" stroke="none" stroke-width="0"/>
<circle cx="137.5" cy="221.75" r="2.6" fill="#c4382a" stroke="none" stroke-width="0"/>
<circle cx="181.3" cy="176.3" r="2.7" fill="#c4382a" stroke="none" stroke-width="0"/>
<text x="188.6" y="178.60000000000002" font-size="6.5" text-anchor="start" fill="#333" stroke="#333" stroke-width="0.18">MOC22</text>
<circle cx="181.3" cy="190.05" r="2.7" fill="#111" stroke="none" stroke-width="0"/>
<text x="188.6" y="192.35000000000002" font-size="6.5" text-anchor="start" fill="#333" stroke="#333" stroke-width="0.18">MOC1P</text>
<circle cx="181.3" cy="203.8" r="2.7" fill="#24498e" stroke="none" stroke-width="0"/>
<text x="188.6" y="206.10000000000002" font-size="6.5" text-anchor="start" fill="#333" stroke="#333" stroke-width="0.18">MOC1esc1</text>
<text x="123.3" y="247.7" font-size="6.7" text-anchor="start" fill="#333" stroke="#333" stroke-width="0.18"><tspan font-style="italic">R</tspan><tspan font-size="4.8" dy="-3.0">2</tspan><tspan dy="3.0"> = 0.5945</tspan></text>
<text x="123.3" y="255.6" font-size="6.6" text-anchor="start" fill="#333" stroke="#333" stroke-width="0.18"><tspan font-style="italic">P</tspan> &lt; 0.0001</text>
<text x="235.4" y="167.0" font-size="13.0" text-anchor="start" font-weight="bold" fill="#111" stroke="#111" stroke-width="0.3">D</text>
<line x1="261.5" y1="185.5" x2="261.5" y2="263.5" stroke="#4a4a4a" stroke-width="1.0"/>
<line x1="259.2" y1="263.5" x2="261.5" y2="263.5" stroke="#4a4a4a" stroke-width="1.0"/>
<text x="257.7" y="266.0" font-size="6.3" text-anchor="end" fill="#333" stroke="#333" stroke-width="0.18">&#8722;2</text>
<line x1="259.2" y1="250.5" x2="261.5" y2="250.5" stroke="#4a4a4a" stroke-width="1.0"/>
<text x="257.7" y="253.0" font-size="6.3" text-anchor="end" fill="#333" stroke="#333" stroke-width="0.18">&#8722;1</text>
<line x1="259.2" y1="237.5" x2="261.5" y2="237.5" stroke="#4a4a4a" stroke-width="1.0"/>
<text x="257.7" y="240.0" font-size="6.3" text-anchor="end" fill="#333" stroke="#333" stroke-width="0.18">0</text>
<line x1="259.2" y1="224.5" x2="261.5" y2="224.5" stroke="#4a4a4a" stroke-width="1.0"/>
<text x="257.7" y="227.0" font-size="6.3" text-anchor="end" fill="#333" stroke="#333" stroke-width="0.18">1</text>
<line x1="259.2" y1="211.5" x2="261.5" y2="211.5" stroke="#4a4a4a" stroke-width="1.0"/>
<text x="257.7" y="214.0" font-size="6.3" text-anchor="end" fill="#333" stroke="#333" stroke-width="0.18">2</text>
<line x1="259.2" y1="198.5" x2="261.5" y2="198.5" stroke="#4a4a4a" stroke-width="1.0"/>
<text x="257.7" y="201.0" font-size="6.3" text-anchor="end" fill="#333" stroke="#333" stroke-width="0.18">3</text>
<line x1="259.2" y1="185.5" x2="261.5" y2="185.5" stroke="#4a4a4a" stroke-width="1.0"/>
<text x="257.7" y="188.0" font-size="6.3" text-anchor="end" fill="#333" stroke="#333" stroke-width="0.18">4</text>
<line x1="261.5" y1="263.5" x2="310.5" y2="263.5" stroke="#4a4a4a" stroke-width="1.0"/>
<line x1="275.5" y1="263.5" x2="275.5" y2="266.0" stroke="#4a4a4a" stroke-width="1.0"/>
<text x="275.4" y="272.09999999999997" font-size="6.3" text-anchor="middle" font-style="italic" fill="#2a2a2a" stroke="#2a2a2a" stroke-width="0.18">r</text>
<line x1="296.5" y1="263.5" x2="296.5" y2="266.0" stroke="#4a4a4a" stroke-width="1.0"/>
<text x="296.6" y="272.09999999999997" font-size="6.3" text-anchor="middle" font-style="italic" fill="#2a2a2a" stroke="#2a2a2a" stroke-width="0.18">nr</text>
<line x1="262.0" y1="237.5" x2="310.5" y2="237.5" stroke="#a0a0a0" stroke-width="1.0" stroke-dasharray="1,1.1"/>
<text x="287.5" y="176.0" font-size="8.8" text-anchor="middle" font-style="italic" fill="#111" stroke="#111" stroke-width="0.18">XCR1</text>
<path d="M275.5,194.8V189.5H296.5V194.8" fill="none" stroke="#4a4a4a" stroke-width="1.0"/>
<text x="286" y="191.2" font-size="10" text-anchor="middle" font-weight="bold" fill="#222" stroke="#222" stroke-width="0.15">*</text>
<path d="M274.00,203.12L277.00,203.12L275.50,200.52Z" fill="#eea552" stroke="#a8702f" stroke-width="0.55" stroke-linejoin="round"/>
<path d="M273.90,221.12L276.90,221.12L275.40,218.52Z" fill="#eea552" stroke="#a8702f" stroke-width="0.55" stroke-linejoin="round"/>
<path d="M274.10,230.87L277.10,230.87L275.60,228.27Z" fill="#eea552" stroke="#a8702f" stroke-width="0.55" stroke-linejoin="round"/>
<path d="M271.10,239.37L274.10,239.37L272.60,236.77Z" fill="#eea552" stroke="#a8702f" stroke-width="0.55" stroke-linejoin="round"/>
<path d="M276.70,239.87L279.70,239.87L278.20,237.27Z" fill="#eea552" stroke="#a8702f" stroke-width="0.55" stroke-linejoin="round"/>
<path d="M270.90,242.72L273.90,242.72L272.40,240.12Z" fill="#eea552" stroke="#a8702f" stroke-width="0.55" stroke-linejoin="round"/>
<path d="M276.90,242.72L279.90,242.72L278.40,240.12Z" fill="#eea552" stroke="#a8702f" stroke-width="0.55" stroke-linejoin="round"/>
<path d="M270.90,246.27L273.90,246.27L272.40,243.67Z" fill="#eea552" stroke="#a8702f" stroke-width="0.55" stroke-linejoin="round"/>
<path d="M276.90,246.27L279.90,246.27L278.40,243.67Z" fill="#eea552" stroke="#a8702f" stroke-width="0.55" stroke-linejoin="round"/>
<circle cx="296.6" cy="200.25" r="1.35" fill="#86c6ec" stroke="#4f86b0" stroke-width="0.5"/>
<circle cx="290.5" cy="242.2" r="1.35" fill="#86c6ec" stroke="#4f86b0" stroke-width="0.5"/>
<circle cx="293" cy="242.5" r="1.35" fill="#86c6ec" stroke="#4f86b0" stroke-width="0.5"/>
<circle cx="295.5" cy="243.2" r="1.35" fill="#86c6ec" stroke="#4f86b0" stroke-width="0.5"/>
<circle cx="298" cy="242.5" r="1.35" fill="#86c6ec" stroke="#4f86b0" stroke-width="0.5"/>
<circle cx="300.5" cy="242.8" r="1.35" fill="#86c6ec" stroke="#4f86b0" stroke-width="0.5"/>
<circle cx="302.5" cy="243.5" r="1.35" fill="#86c6ec" stroke="#4f86b0" stroke-width="0.5"/>
<circle cx="291.5" cy="244.6" r="1.35" fill="#86c6ec" stroke="#4f86b0" stroke-width="0.5"/>
<circle cx="294" cy="245" r="1.35" fill="#86c6ec" stroke="#4f86b0" stroke-width="0.5"/>
<circle cx="297" cy="245" r="1.35" fill="#86c6ec" stroke="#4f86b0" stroke-width="0.5"/>
<circle cx="300" cy="244.6" r="1.35" fill="#86c6ec" stroke="#4f86b0" stroke-width="0.5"/>
<circle cx="302.5" cy="245" r="1.35" fill="#86c6ec" stroke="#4f86b0" stroke-width="0.5"/>
<circle cx="296" cy="241.8" r="1.35" fill="#86c6ec" stroke="#4f86b0" stroke-width="0.5"/>
<line x1="270" y1="238.5" x2="282" y2="238.5" stroke="#3a2a1e" stroke-width="1.0"/>
<line x1="289.4" y1="243.5" x2="303.75" y2="243.5" stroke="#1a2f4a" stroke-width="1.0"/>
<text x="246.8" y="225" font-size="6.6" text-anchor="middle" fill="#333" stroke="#333" stroke-width="0.18" transform="rotate(-90 246.8 225)">Z-score</text>
<line x1="329.5" y1="184.5" x2="329.5" y2="263.5" stroke="#4a4a4a" stroke-width="1.0"/>
<line x1="327.2" y1="263.5" x2="329.5" y2="263.5" stroke="#4a4a4a" stroke-width="1.0"/>
<text x="325.7" y="265.90000000000003" font-size="6.3" text-anchor="end" fill="#333" stroke="#333" stroke-width="0.18">&#8722;2</text>
<line x1="327.2" y1="250.5" x2="329.5" y2="250.5" stroke="#4a4a4a" stroke-width="1.0"/>
<text x="325.7" y="252.75" font-size="6.3" text-anchor="end" fill="#333" stroke="#333" stroke-width="0.18">&#8722;1</text>
<line x1="327.2" y1="237.5" x2="329.5" y2="237.5" stroke="#4a4a4a" stroke-width="1.0"/>
<text x="325.7" y="239.6" font-size="6.3" text-anchor="end" fill="#333" stroke="#333" stroke-width="0.18">0</text>
<line x1="327.2" y1="224.5" x2="329.5" y2="224.5" stroke="#4a4a4a" stroke-width="1.0"/>
<text x="325.7" y="226.45" font-size="6.3" text-anchor="end" fill="#333" stroke="#333" stroke-width="0.18">1</text>
<line x1="327.2" y1="211.5" x2="329.5" y2="211.5" stroke="#4a4a4a" stroke-width="1.0"/>
<text x="325.7" y="213.29999999999998" font-size="6.3" text-anchor="end" fill="#333" stroke="#333" stroke-width="0.18">2</text>
<line x1="327.2" y1="198.5" x2="329.5" y2="198.5" stroke="#4a4a4a" stroke-width="1.0"/>
<text x="325.7" y="200.15" font-size="6.3" text-anchor="end" fill="#333" stroke="#333" stroke-width="0.18">3</text>
<line x1="327.2" y1="184.5" x2="329.5" y2="184.5" stroke="#4a4a4a" stroke-width="1.0"/>
<text x="325.7" y="187.0" font-size="6.3" text-anchor="end" fill="#333" stroke="#333" stroke-width="0.18">4</text>
<line x1="329.5" y1="263.5" x2="380.0" y2="263.5" stroke="#4a4a4a" stroke-width="1.0"/>
<line x1="343.5" y1="263.5" x2="343.5" y2="266.0" stroke="#4a4a4a" stroke-width="1.0"/>
<text x="343.75" y="272.0" font-size="6.3" text-anchor="middle" font-style="italic" fill="#2a2a2a" stroke="#2a2a2a" stroke-width="0.18">r</text>
<line x1="365.5" y1="263.5" x2="365.5" y2="266.0" stroke="#4a4a4a" stroke-width="1.0"/>
<text x="365.75" y="272.0" font-size="6.3" text-anchor="middle" font-style="italic" fill="#2a2a2a" stroke="#2a2a2a" stroke-width="0.18">nr</text>
<line x1="330.0" y1="237.5" x2="380.0" y2="237.5" stroke="#a0a0a0" stroke-width="1.0" stroke-dasharray="1,1.1"/>
<text x="358" y="175.5" font-size="8.8" text-anchor="middle" font-style="italic" fill="#111" stroke="#111" stroke-width="0.18">BATF3</text>
<path d="M343.5,192.8V188.5H366.5V192.8" fill="none" stroke="#4a4a4a" stroke-width="1.0"/>
<text x="354.7" y="189.0" font-size="10" text-anchor="middle" font-weight="bold" fill="#222" stroke="#222" stroke-width="0.15">*</text>
<path d="M342.10,216.87L345.10,216.87L343.60,214.27Z" fill="#eea552" stroke="#a8702f" stroke-width="0.55" stroke-linejoin="round"/>
<path d="M342.10,228.97L345.10,228.97L343.60,226.37Z" fill="#eea552" stroke="#a8702f" stroke-width="0.55" stroke-linejoin="round"/>
<path d="M336.30,230.97L339.30,230.97L337.80,228.37Z" fill="#eea552" stroke="#a8702f" stroke-width="0.55" stroke-linejoin="round"/>
<path d="M349.00,230.97L352.00,230.97L350.50,228.37Z" fill="#eea552" stroke="#a8702f" stroke-width="0.55" stroke-linejoin="round"/>
<path d="M342.10,234.37L345.10,234.37L343.60,231.77Z" fill="#eea552" stroke="#a8702f" stroke-width="0.55" stroke-linejoin="round"/>
<path d="M342.10,239.37L345.10,239.37L343.60,236.77Z" fill="#eea552" stroke="#a8702f" stroke-width="0.55" stroke-linejoin="round"/>
<path d="M345.20,242.77L348.20,242.77L346.70,240.17Z" fill="#eea552" stroke="#a8702f" stroke-width="0.55" stroke-linejoin="round"/>
<path d="M339.40,245.87L342.40,245.87L340.90,243.27Z" fill="#eea552" stroke="#a8702f" stroke-width="0.55" stroke-linejoin="round"/>
<circle cx="365.75" cy="198.75" r="1.35" fill="#86c6ec" stroke="#4f86b0" stroke-width="0.5"/>
<circle cx="366.2" cy="226.2" r="1.35" fill="#86c6ec" stroke="#4f86b0" stroke-width="0.5"/>
<circle cx="366.2" cy="229.6" r="1.35" fill="#86c6ec" stroke="#4f86b0" stroke-width="0.5"/>
<circle cx="369.1" cy="234.4" r="1.35" fill="#86c6ec" stroke="#4f86b0" stroke-width="0.5"/>
<circle cx="363.3" cy="235.9" r="1.35" fill="#86c6ec" stroke="#4f86b0" stroke-width="0.5"/>
<circle cx="365.6" cy="237.7" r="1.35" fill="#86c6ec" stroke="#4f86b0" stroke-width="0.5"/>
<circle cx="366.6" cy="238.8" r="1.35" fill="#86c6ec" stroke="#4f86b0" stroke-width="0.5"/>
<circle cx="365.6" cy="244.8" r="1.35" fill="#86c6ec" stroke="#4f86b0" stroke-width="0.5"/>
<circle cx="361" cy="248.2" r="1.35" fill="#86c6ec" stroke="#4f86b0" stroke-width="0.5"/>
<circle cx="363.3" cy="247.1" r="1.35" fill="#86c6ec" stroke="#4f86b0" stroke-width="0.5"/>
<circle cx="366.8" cy="248.8" r="1.35" fill="#86c6ec" stroke="#4f86b0" stroke-width="0.5"/>
<circle cx="370.2" cy="248.2" r="1.35" fill="#86c6ec" stroke="#4f86b0" stroke-width="0.5"/>
<circle cx="364.5" cy="253.4" r="1.35" fill="#86c6ec" stroke="#4f86b0" stroke-width="0.5"/>
<circle cx="366.8" cy="252.6" r="1.35" fill="#86c6ec" stroke="#4f86b0" stroke-width="0.5"/>
<line x1="336.3" y1="231.5" x2="351.3" y2="231.5" stroke="#3a2a1e" stroke-width="1.0"/>
<line x1="358.2" y1="245.5" x2="373.4" y2="245.5" stroke="#1a2f4a" stroke-width="1.0"/>
<line x1="398.5" y1="184.5" x2="398.5" y2="264.5" stroke="#4a4a4a" stroke-width="1.0"/>
<line x1="396.2" y1="264.5" x2="398.5" y2="264.5" stroke="#4a4a4a" stroke-width="1.0"/>
<text x="394.9" y="266.20000000000005" font-size="6.3" text-anchor="end" fill="#333" stroke="#333" stroke-width="0.18">&#8722;1</text>
<line x1="396.2" y1="244.5" x2="398.5" y2="244.5" stroke="#4a4a4a" stroke-width="1.0"/>
<text x="394.9" y="246.35" font-size="6.3" text-anchor="end" fill="#333" stroke="#333" stroke-width="0.18">0</text>
<line x1="396.2" y1="224.5" x2="398.5" y2="224.5" stroke="#4a4a4a" stroke-width="1.0"/>
<text x="394.9" y="226.5" font-size="6.3" text-anchor="end" fill="#333" stroke="#333" stroke-width="0.18">1</text>
<line x1="396.2" y1="204.5" x2="398.5" y2="204.5" stroke="#4a4a4a" stroke-width="1.0"/>
<text x="394.9" y="206.65" font-size="6.3" text-anchor="end" fill="#333" stroke="#333" stroke-width="0.18">2</text>
<line x1="396.2" y1="184.5" x2="398.5" y2="184.5" stroke="#4a4a4a" stroke-width="1.0"/>
<text x="394.9" y="186.79999999999998" font-size="6.3" text-anchor="end" fill="#333" stroke="#333" stroke-width="0.18">3</text>
<line x1="398.5" y1="264.5" x2="450.0" y2="264.5" stroke="#4a4a4a" stroke-width="1.0"/>
<line x1="413.5" y1="264.5" x2="413.5" y2="267.0" stroke="#4a4a4a" stroke-width="1.0"/>
<text x="413.25" y="272.3" font-size="6.3" text-anchor="middle" font-style="italic" fill="#2a2a2a" stroke="#2a2a2a" stroke-width="0.18">r</text>
<line x1="435.5" y1="264.5" x2="435.5" y2="267.0" stroke="#4a4a4a" stroke-width="1.0"/>
<text x="435.5" y="272.3" font-size="6.3" text-anchor="middle" font-style="italic" fill="#2a2a2a" stroke="#2a2a2a" stroke-width="0.18">nr</text>
<line x1="399.2" y1="244.5" x2="450.0" y2="244.5" stroke="#a0a0a0" stroke-width="1.0" stroke-dasharray="1,1.1"/>
<text x="429.2" y="176.2" font-size="8.8" text-anchor="middle" fill="#111" stroke="#111" stroke-width="0.18">DC signature</text>
<path d="M413.5,194.5V189.5H436.5V202.0" fill="none" stroke="#4a4a4a" stroke-width="1.0"/>
<text x="427" y="187.8" font-size="10" text-anchor="middle" font-weight="bold" fill="#222" stroke="#222" stroke-width="0.15">*</text>
<path d="M412.25,207.12L415.25,207.12L413.75,204.52Z" fill="#eea552" stroke="#a8702f" stroke-width="0.55" stroke-linejoin="round"/>
<path d="M412.25,226.37L415.25,226.37L413.75,223.77Z" fill="#eea552" stroke="#a8702f" stroke-width="0.55" stroke-linejoin="round"/>
<path d="M408.70,239.47L411.70,239.47L410.20,236.87Z" fill="#eea552" stroke="#a8702f" stroke-width="0.55" stroke-linejoin="round"/>
<path d="M415.10,240.67L418.10,240.67L416.60,238.07Z" fill="#eea552" stroke="#a8702f" stroke-width="0.55" stroke-linejoin="round"/>
<path d="M408.70,245.97L411.70,245.97L410.20,243.37Z" fill="#eea552" stroke="#a8702f" stroke-width="0.55" stroke-linejoin="round"/>
<path d="M415.10,245.57L418.10,245.57L416.60,242.97Z" fill="#eea552" stroke="#a8702f" stroke-width="0.55" stroke-linejoin="round"/>
<path d="M415.30,248.77L418.30,248.77L416.80,246.17Z" fill="#eea552" stroke="#a8702f" stroke-width="0.55" stroke-linejoin="round"/>
<path d="M412.30,253.77L415.30,253.77L413.80,251.17Z" fill="#eea552" stroke="#a8702f" stroke-width="0.55" stroke-linejoin="round"/>
<circle cx="436.25" cy="214.5" r="1.35" fill="#86c6ec" stroke="#4f86b0" stroke-width="0.5"/>
<circle cx="439.4" cy="241" r="1.35" fill="#86c6ec" stroke="#4f86b0" stroke-width="0.5"/>
<circle cx="436.5" cy="242.5" r="1.35" fill="#86c6ec" stroke="#4f86b0" stroke-width="0.5"/>
<circle cx="434.8" cy="244.4" r="1.35" fill="#86c6ec" stroke="#4f86b0" stroke-width="0.5"/>
<circle cx="433.6" cy="246.7" r="1.35" fill="#86c6ec" stroke="#4f86b0" stroke-width="0.5"/>
<circle cx="441.7" cy="248.5" r="1.35" fill="#86c6ec" stroke="#4f86b0" stroke-width="0.5"/>
<circle cx="439.4" cy="249.5" r="1.35" fill="#86c6ec" stroke="#4f86b0" stroke-width="0.5"/>
<circle cx="436" cy="250" r="1.35" fill="#86c6ec" stroke="#4f86b0" stroke-width="0.5"/>
<circle cx="433.1" cy="253" r="1.35" fill="#86c6ec" stroke="#4f86b0" stroke-width="0.5"/>
<circle cx="436" cy="254.2" r="1.35" fill="#86c6ec" stroke="#4f86b0" stroke-width="0.5"/>
<circle cx="439.4" cy="254.8" r="1.35" fill="#86c6ec" stroke="#4f86b0" stroke-width="0.5"/>
<circle cx="441.7" cy="253" r="1.35" fill="#86c6ec" stroke="#4f86b0" stroke-width="0.5"/>
<circle cx="433.1" cy="257.3" r="1.35" fill="#86c6ec" stroke="#4f86b0" stroke-width="0.5"/>
<circle cx="437" cy="257.5" r="1.35" fill="#86c6ec" stroke="#4f86b0" stroke-width="0.5"/>
<line x1="406.2" y1="241.5" x2="421" y2="241.5" stroke="#3a2a1e" stroke-width="1.0"/>
<line x1="429" y1="251.5" x2="443.4" y2="251.5" stroke="#1a2f4a" stroke-width="1.0"/>
<path d="M458.00,190.07L461.00,190.07L459.50,187.47Z" fill="#eea552" stroke="#a8702f" stroke-width="0.55" stroke-linejoin="round"/>
<text x="463.8" y="191.2" font-size="6.6" text-anchor="start" fill="#333" stroke="#333" stroke-width="0.18">Responder</text>
<circle cx="459.5" cy="199.6" r="1.3" fill="#86c6ec" stroke="#4f86b0" stroke-width="0.5"/>
<text x="463.8" y="201.8" font-size="6.6" text-anchor="start" fill="#333" stroke="#333" stroke-width="0.18">Nonresponder</text>
<text x="3.0" y="318.2" font-size="13.0" text-anchor="start" font-weight="bold" fill="#111" stroke="#111" stroke-width="0.3">E</text>
<line x1="21.5" y1="337.5" x2="21.5" y2="415.5" stroke="#4a4a4a" stroke-width="1.0"/>
<line x1="19.2" y1="415.5" x2="21.5" y2="415.5" stroke="#4a4a4a" stroke-width="1.0"/>
<text x="17.95" y="418.0" font-size="6.3" text-anchor="end" fill="#333" stroke="#333" stroke-width="0.18">&#8722;1</text>
<line x1="19.2" y1="399.5" x2="21.5" y2="399.5" stroke="#4a4a4a" stroke-width="1.0"/>
<text x="17.95" y="402.4" font-size="6.3" text-anchor="end" fill="#333" stroke="#333" stroke-width="0.18">0</text>
<line x1="19.2" y1="383.5" x2="21.5" y2="383.5" stroke="#4a4a4a" stroke-width="1.0"/>
<text x="17.95" y="386.79999999999995" font-size="6.3" text-anchor="end" fill="#333" stroke="#333" stroke-width="0.18">1</text>
<line x1="19.2" y1="368.5" x2="21.5" y2="368.5" stroke="#4a4a4a" stroke-width="1.0"/>
<text x="17.95" y="371.2" font-size="6.3" text-anchor="end" fill="#333" stroke="#333" stroke-width="0.18">2</text>
<line x1="19.2" y1="352.5" x2="21.5" y2="352.5" stroke="#4a4a4a" stroke-width="1.0"/>
<text x="17.95" y="355.59999999999997" font-size="6.3" text-anchor="end" fill="#333" stroke="#333" stroke-width="0.18">3</text>
<line x1="19.2" y1="337.5" x2="21.5" y2="337.5" stroke="#4a4a4a" stroke-width="1.0"/>
<text x="17.95" y="340.0" font-size="6.3" text-anchor="end" fill="#333" stroke="#333" stroke-width="0.18">4</text>
<line x1="21.5" y1="415.5" x2="74.5" y2="415.5" stroke="#4a4a4a" stroke-width="1.0"/>
<line x1="36.5" y1="415.5" x2="36.5" y2="418.0" stroke="#4a4a4a" stroke-width="1.0"/>
<text x="36.75" y="425.0" font-size="6.3" text-anchor="middle" font-style="italic" fill="#2a2a2a" stroke="#2a2a2a" stroke-width="0.18">r</text>
<line x1="59.5" y1="415.5" x2="59.5" y2="418.0" stroke="#4a4a4a" stroke-width="1.0"/>
<text x="59.25" y="425.0" font-size="6.3" text-anchor="middle" font-style="italic" fill="#2a2a2a" stroke="#2a2a2a" stroke-width="0.18">nr</text>
<line x1="22.25" y1="399.5" x2="74.5" y2="399.5" stroke="#a0a0a0" stroke-width="1.0" stroke-dasharray="1,1.1"/>
<text x="48" y="328.0" font-size="8.8" text-anchor="middle" font-style="italic" fill="#111" stroke="#111" stroke-width="0.18">CXCL9</text>
<path d="M36.5,345V340.5H59.5V372.5" fill="none" stroke="#4a4a4a" stroke-width="1.0"/>
<text x="47.5" y="341.0" font-size="10" text-anchor="middle" font-weight="bold" fill="#222" stroke="#222" stroke-width="0.15">***</text>
<path d="M35.30,354.57L38.30,354.57L36.80,351.97Z" fill="#eea552" stroke="#a8702f" stroke-width="0.55" stroke-linejoin="round"/>
<path d="M35.30,370.17L38.30,370.17L36.80,367.57Z" fill="#eea552" stroke="#a8702f" stroke-width="0.55" stroke-linejoin="round"/>
<path d="M35.30,376.87L38.30,376.87L36.80,374.27Z" fill="#eea552" stroke="#a8702f" stroke-width="0.55" stroke-linejoin="round"/>
<path d="M35.30,386.67L38.30,386.67L36.80,384.07Z" fill="#eea552" stroke="#a8702f" stroke-width="0.55" stroke-linejoin="round"/>
<path d="M38.60,398.17L41.60,398.17L40.10,395.57Z" fill="#eea552" stroke="#a8702f" stroke-width="0.55" stroke-linejoin="round"/>
<path d="M31.90,399.87L34.90,399.87L33.40,397.27Z" fill="#eea552" stroke="#a8702f" stroke-width="0.55" stroke-linejoin="round"/>
<path d="M38.60,401.77L41.60,401.77L40.10,399.17Z" fill="#eea552" stroke="#a8702f" stroke-width="0.55" stroke-linejoin="round"/>
<path d="M35.30,407.07L38.30,407.07L36.80,404.47Z" fill="#eea552" stroke="#a8702f" stroke-width="0.55" stroke-linejoin="round"/>
<circle cx="59.2" cy="381.1" r="1.35" fill="#86c6ec" stroke="#4f86b0" stroke-width="0.5"/>
<circle cx="59.8" cy="402.9" r="1.35" fill="#86c6ec" stroke="#4f86b0" stroke-width="0.5"/>
<circle cx="58.1" cy="405.1" r="1.35" fill="#86c6ec" stroke="#4f86b0" stroke-width="0.5"/>
<circle cx="53" cy="407" r="1.35" fill="#86c6ec" stroke="#4f86b0" stroke-width="0.5"/>
<circle cx="55.5" cy="407.5" r="1.35" fill="#86c6ec" stroke="#4f86b0" stroke-width="0.5"/>
<circle cx="58.5" cy="407.2" r="1.35" fill="#86c6ec" stroke="#4f86b0" stroke-width="0.5"/>
<circle cx="61.5" cy="407.5" r="1.35" fill="#86c6ec" stroke="#4f86b0" stroke-width="0.5"/>
<circle cx="64.5" cy="407.2" r="1.35" fill="#86c6ec" stroke="#4f86b0" stroke-width="0.5"/>
<circle cx="53.5" cy="409.8" r="1.35" fill="#86c6ec" stroke="#4f86b0" stroke-width="0.5"/>
<circle cx="56.5" cy="410.2" r="1.35" fill="#86c6ec" stroke="#4f86b0" stroke-width="0.5"/>
<circle cx="59.5" cy="410.2" r="1.35" fill="#86c6ec" stroke="#4f86b0" stroke-width="0.5"/>
<circle cx="62.5" cy="410" r="1.35" fill="#86c6ec" stroke="#4f86b0" stroke-width="0.5"/>
<circle cx="65.3" cy="409.8" r="1.35" fill="#86c6ec" stroke="#4f86b0" stroke-width="0.5"/>
<line x1="29" y1="385.5" x2="43.8" y2="385.5" stroke="#6f7d98" stroke-width="1.0"/>
<line x1="51.4" y1="407.5" x2="66.5" y2="407.5" stroke="#1a2f4a" stroke-width="1.0"/>
<text x="9.6" y="381.7" font-size="6.6" text-anchor="middle" fill="#333" stroke="#333" stroke-width="0.18" transform="rotate(-90 9.6 381.7)">Z-score</text>
<line x1="90.5" y1="337.5" x2="90.5" y2="415.5" stroke="#4a4a4a" stroke-width="1.0"/>
<line x1="88.2" y1="415.5" x2="90.5" y2="415.5" stroke="#4a4a4a" stroke-width="1.0"/>
<text x="87.2" y="418.0" font-size="6.3" text-anchor="end" fill="#333" stroke="#333" stroke-width="0.18">&#8722;1</text>
<line x1="88.2" y1="399.5" x2="90.5" y2="399.5" stroke="#4a4a4a" stroke-width="1.0"/>
<text x="87.2" y="402.4" font-size="6.3" text-anchor="end" fill="#333" stroke="#333" stroke-width="0.18">0</text>
<line x1="88.2" y1="383.5" x2="90.5" y2="383.5" stroke="#4a4a4a" stroke-width="1.0"/>
<text x="87.2" y="386.79999999999995" font-size="6.3" text-anchor="end" fill="#333" stroke="#333" stroke-width="0.18">1</text>
<line x1="88.2" y1="368.5" x2="90.5" y2="368.5" stroke="#4a4a4a" stroke-width="1.0"/>
<text x="87.2" y="371.2" font-size="6.3" text-anchor="end" fill="#333" stroke="#333" stroke-width="0.18">2</text>
<line x1="88.2" y1="352.5" x2="90.5" y2="352.5" stroke="#4a4a4a" stroke-width="1.0"/>
<text x="87.2" y="355.59999999999997" font-size="6.3" text-anchor="end" fill="#333" stroke="#333" stroke-width="0.18">3</text>
<line x1="88.2" y1="337.5" x2="90.5" y2="337.5" stroke="#4a4a4a" stroke-width="1.0"/>
<text x="87.2" y="340.0" font-size="6.3" text-anchor="end" fill="#333" stroke="#333" stroke-width="0.18">4</text>
<line x1="90.5" y1="415.5" x2="141.0" y2="415.5" stroke="#4a4a4a" stroke-width="1.0"/>
<line x1="105.5" y1="415.5" x2="105.5" y2="418.0" stroke="#4a4a4a" stroke-width="1.0"/>
<text x="105" y="425.0" font-size="6.3" text-anchor="middle" font-style="italic" fill="#2a2a2a" stroke="#2a2a2a" stroke-width="0.18">r</text>
<line x1="126.5" y1="415.5" x2="126.5" y2="418.0" stroke="#4a4a4a" stroke-width="1.0"/>
<text x="126.75" y="425.0" font-size="6.3" text-anchor="middle" font-style="italic" fill="#2a2a2a" stroke="#2a2a2a" stroke-width="0.18">nr</text>
<line x1="91.5" y1="399.5" x2="141.0" y2="399.5" stroke="#a0a0a0" stroke-width="1.0" stroke-dasharray="1,1.1"/>
<text x="116.25" y="327.5" font-size="8.8" text-anchor="middle" font-style="italic" fill="#111" stroke="#111" stroke-width="0.18">CXCL10</text>
<path d="M105.5,345V340.5H127.5V386.25" fill="none" stroke="#4a4a4a" stroke-width="1.0"/>
<text x="114.2" y="341.0" font-size="10" text-anchor="middle" font-weight="bold" fill="#222" stroke="#222" stroke-width="0.15">***</text>
<path d="M103.60,350.57L106.60,350.57L105.10,347.97Z" fill="#eea552" stroke="#a8702f" stroke-width="0.55" stroke-linejoin="round"/>
<path d="M97.60,381.07L100.60,381.07L99.10,378.47Z" fill="#eea552" stroke="#a8702f" stroke-width="0.55" stroke-linejoin="round"/>
<path d="M103.60,378.97L106.60,378.97L105.10,376.37Z" fill="#eea552" stroke="#a8702f" stroke-width="0.55" stroke-linejoin="round"/>
<path d="M109.50,380.27L112.50,380.27L111.00,377.67Z" fill="#eea552" stroke="#a8702f" stroke-width="0.55" stroke-linejoin="round"/>
<path d="M103.60,391.47L106.60,391.47L105.10,388.87Z" fill="#eea552" stroke="#a8702f" stroke-width="0.55" stroke-linejoin="round"/>
<path d="M100.90,399.27L103.90,399.27L102.40,396.67Z" fill="#eea552" stroke="#a8702f" stroke-width="0.55" stroke-linejoin="round"/>
<path d="M106.50,399.27L109.50,399.27L108.00,396.67Z" fill="#eea552" stroke="#a8702f" stroke-width="0.55" stroke-linejoin="round"/>
<path d="M103.60,406.57L106.60,406.57L105.10,403.97Z" fill="#eea552" stroke="#a8702f" stroke-width="0.55" stroke-linejoin="round"/>
<circle cx="126.9" cy="390" r="1.35" fill="#86c6ec" stroke="#4f86b0" stroke-width="0.5"/>
<circle cx="126.9" cy="399" r="1.35" fill="#86c6ec" stroke="#4f86b0" stroke-width="0.5"/>
<circle cx="127.3" cy="403.7" r="1.35" fill="#86c6ec" stroke="#4f86b0" stroke-width="0.5"/>
<circle cx="124.8" cy="405" r="1.35" fill="#86c6ec" stroke="#4f86b0" stroke-width="0.5"/>
<circle cx="131" cy="406.7" r="1.35" fill="#86c6ec" stroke="#4f86b0" stroke-width="0.5"/>
<circle cx="121" cy="408.5" r="1.35" fill="#86c6ec" stroke="#4f86b0" stroke-width="0.5"/>
<circle cx="124" cy="409" r="1.35" fill="#86c6ec" stroke="#4f86b0" stroke-width="0.5"/>
<circle cx="127.5" cy="408.8" r="1.35" fill="#86c6ec" stroke="#4f86b0" stroke-width="0.5"/>
<circle cx="130.5" cy="409" r="1.35" fill="#86c6ec" stroke="#4f86b0" stroke-width="0.5"/>
<circle cx="133.5" cy="409.2" r="1.35" fill="#86c6ec" stroke="#4f86b0" stroke-width="0.5"/>
<circle cx="122.5" cy="410.8" r="1.35" fill="#86c6ec" stroke="#4f86b0" stroke-width="0.5"/>
<circle cx="126" cy="410.8" r="1.35" fill="#86c6ec" stroke="#4f86b0" stroke-width="0.5"/>
<circle cx="129.5" cy="410.8" r="1.35" fill="#86c6ec" stroke="#4f86b0" stroke-width="0.5"/>
<line x1="97.4" y1="385.5" x2="112.2" y2="385.5" stroke="#6f7d98" stroke-width="1.0"/>
<line x1="119.7" y1="409.5" x2="134.3" y2="409.5" stroke="#1a2f4a" stroke-width="1.0"/>
<text x="150.7" y="319.2" font-size="13.0" text-anchor="start" font-weight="bold" fill="#111" stroke="#111" stroke-width="0.3">F</text>
<line x1="178.5" y1="334.5" x2="178.5" y2="415.5" stroke="#4a4a4a" stroke-width="1.0"/>
<line x1="175.4" y1="415.5" x2="178.5" y2="415.5" stroke="#4a4a4a" stroke-width="1.0"/>
<text x="174.2" y="417.59999999999997" font-size="6.3" text-anchor="end" fill="#333" stroke="#333" stroke-width="0.18">&#8722;0.05</text>
<line x1="175.4" y1="401.5" x2="178.5" y2="401.5" stroke="#4a4a4a" stroke-width="1.0"/>
<text x="174.2" y="404.2" font-size="6.3" text-anchor="end" fill="#333" stroke="#333" stroke-width="0.18">0.00</text>
<line x1="175.4" y1="388.5" x2="178.5" y2="388.5" stroke="#4a4a4a" stroke-width="1.0"/>
<text x="174.2" y="390.8" font-size="6.3" text-anchor="end" fill="#333" stroke="#333" stroke-width="0.18">0.05</text>
<line x1="175.4" y1="375.5" x2="178.5" y2="375.5" stroke="#4a4a4a" stroke-width="1.0"/>
<text x="174.2" y="377.4" font-size="6.3" text-anchor="end" fill="#333" stroke="#333" stroke-width="0.18">0.10</text>
<line x1="175.4" y1="361.5" x2="178.5" y2="361.5" stroke="#4a4a4a" stroke-width="1.0"/>
<text x="174.2" y="364.0" font-size="6.3" text-anchor="end" fill="#333" stroke="#333" stroke-width="0.18">0.15</text>
<line x1="175.4" y1="348.5" x2="178.5" y2="348.5" stroke="#4a4a4a" stroke-width="1.0"/>
<text x="174.2" y="350.59999999999997" font-size="6.3" text-anchor="end" fill="#333" stroke="#333" stroke-width="0.18">0.20</text>
<line x1="175.4" y1="334.5" x2="178.5" y2="334.5" stroke="#4a4a4a" stroke-width="1.0"/>
<text x="174.2" y="337.2" font-size="6.3" text-anchor="end" fill="#333" stroke="#333" stroke-width="0.18">0.25</text>
<line x1="178.5" y1="415.5" x2="231.0" y2="415.5" stroke="#4a4a4a" stroke-width="1.0"/>
<line x1="193.5" y1="415.5" x2="193.5" y2="418.0" stroke="#4a4a4a" stroke-width="1.0"/>
<text x="193.5" y="425.19999999999993" font-size="6.3" text-anchor="middle" font-style="italic" fill="#2a2a2a" stroke="#2a2a2a" stroke-width="0.18">r</text>
<line x1="216.5" y1="415.5" x2="216.5" y2="418.0" stroke="#4a4a4a" stroke-width="1.0"/>
<text x="216.25" y="425.19999999999993" font-size="6.3" text-anchor="middle" font-style="italic" fill="#2a2a2a" stroke="#2a2a2a" stroke-width="0.18">nr</text>
<text x="203.5" y="321.2" font-size="8.8" text-anchor="middle" fill="#111" stroke="#111" stroke-width="0.18">cDC score</text>
<path d="M193.5,338.75V334.5H216.5V338.75" fill="none" stroke="#4a4a4a" stroke-width="1.0"/>
<text x="205.8" y="331.9" font-size="10" text-anchor="middle" font-weight="bold" fill="#222" stroke="#222" stroke-width="0.15">**</text>
<path d="M191.70,350.57L194.70,350.57L193.20,347.97Z" fill="#eea552" stroke="#a8702f" stroke-width="0.55" stroke-linejoin="round"/>
<path d="M188.90,363.37L191.90,363.37L190.40,360.77Z" fill="#eea552" stroke="#a8702f" stroke-width="0.55" stroke-linejoin="round"/>
<path d="M195.10,360.57L198.10,360.57L196.60,357.97Z" fill="#eea552" stroke="#a8702f" stroke-width="0.55" stroke-linejoin="round"/>
<path d="M195.10,364.87L198.10,364.87L196.60,362.27Z" fill="#eea552" stroke="#a8702f" stroke-width="0.55" stroke-linejoin="round"/>
<path d="M188.90,374.17L191.90,374.17L190.40,371.57Z" fill="#eea552" stroke="#a8702f" stroke-width="0.55" stroke-linejoin="round"/>
<path d="M195.10,373.17L198.10,373.17L196.60,370.57Z" fill="#eea552" stroke="#a8702f" stroke-width="0.55" stroke-linejoin="round"/>
<path d="M195.10,376.27L198.10,376.27L196.60,373.67Z" fill="#eea552" stroke="#a8702f" stroke-width="0.55" stroke-linejoin="round"/>
<path d="M191.70,395.87L194.70,395.87L193.20,393.27Z" fill="#eea552" stroke="#a8702f" stroke-width="0.55" stroke-linejoin="round"/>
<circle cx="216.2" cy="343.3" r="1.35" fill="#86c6ec" stroke="#4f86b0" stroke-width="0.5"/>
<circle cx="216.2" cy="370.1" r="1.35" fill="#86c6ec" stroke="#4f86b0" stroke-width="0.5"/>
<circle cx="215.8" cy="378.2" r="1.35" fill="#86c6ec" stroke="#4f86b0" stroke-width="0.5"/>
<circle cx="214" cy="382.3" r="1.35" fill="#86c6ec" stroke="#4f86b0" stroke-width="0.5"/>
<circle cx="218.7" cy="382.3" r="1.35" fill="#86c6ec" stroke="#4f86b0" stroke-width="0.5"/>
<circle cx="210.2" cy="388" r="1.35" fill="#86c6ec" stroke="#4f86b0" stroke-width="0.5"/>
<circle cx="214.9" cy="388.6" r="1.35" fill="#86c6ec" stroke="#4f86b0" stroke-width="0.5"/>
<circle cx="218.7" cy="387.6" r="1.35" fill="#86c6ec" stroke="#4f86b0" stroke-width="0.5"/>
<circle cx="214.3" cy="394.2" r="1.35" fill="#86c6ec" stroke="#4f86b0" stroke-width="0.5"/>
<circle cx="218.7" cy="393.7" r="1.35" fill="#86c6ec" stroke="#4f86b0" stroke-width="0.5"/>
<circle cx="210.6" cy="396.9" r="1.35" fill="#86c6ec" stroke="#4f86b0" stroke-width="0.5"/>
<circle cx="214.5" cy="398.4" r="1.35" fill="#86c6ec" stroke="#4f86b0" stroke-width="0.5"/>
<circle cx="218.7" cy="399.9" r="1.35" fill="#86c6ec" stroke="#4f86b0" stroke-width="0.5"/>
<circle cx="222.5" cy="399.9" r="1.35" fill="#86c6ec" stroke="#4f86b0" stroke-width="0.5"/>
<circle cx="210.2" cy="401.8" r="1.35" fill="#86c6ec" stroke="#4f86b0" stroke-width="0.5"/>
<line x1="186" y1="367.5" x2="201.1" y2="367.5" stroke="#7a88a8" stroke-width="1.0"/>
<line x1="208.3" y1="390.5" x2="223.8" y2="390.5" stroke="#4b6c90" stroke-width="1.0"/>
<text x="157.2" y="377.5" font-size="6.6" text-anchor="middle" fill="#333" stroke="#333" stroke-width="0.18" transform="rotate(-90 157.2 377.5)">Score</text>
<path d="M240.50,338.47L243.50,338.47L242.00,335.87Z" fill="#eea552" stroke="#a8702f" stroke-width="0.55" stroke-linejoin="round"/>
<text x="247" y="339.6" font-size="6.6" text-anchor="start" fill="#333" stroke="#333" stroke-width="0.18">Responder</text>
<circle cx="241.9" cy="347.7" r="1.3" fill="#86c6ec" stroke="#4f86b0" stroke-width="0.5"/>
<text x="247" y="349.8" font-size="6.6" text-anchor="start" fill="#333" stroke="#333" stroke-width="0.18">Nonresponder</text>
<text x="297.4" y="315.8" font-size="13.0" text-anchor="start" font-weight="bold" fill="#111" stroke="#111" stroke-width="0.3">G</text>
<text x="397.5" y="313.6" font-size="8.9" text-anchor="middle" fill="#222" stroke="#222" stroke-width="0.18">cDC vs. CD8</text>
<line x1="331.5" y1="324.5" x2="331.5" y2="411.5" stroke="#555" stroke-width="1.0"/>
<line x1="328.2" y1="411.5" x2="331.5" y2="411.5" stroke="#555" stroke-width="1.0"/>
<text x="326.7" y="413.5" font-size="6.3" text-anchor="end" fill="#333" stroke="#333" stroke-width="0.18">0.00</text>
<line x1="328.2" y1="394.5" x2="331.5" y2="394.5" stroke="#555" stroke-width="1.0"/>
<text x="326.7" y="396.05" font-size="6.3" text-anchor="end" fill="#333" stroke="#333" stroke-width="0.18">0.05</text>
<line x1="328.2" y1="376.5" x2="331.5" y2="376.5" stroke="#555" stroke-width="1.0"/>
<text x="326.7" y="378.6" font-size="6.3" text-anchor="end" fill="#333" stroke="#333" stroke-width="0.18">0.10</text>
<line x1="328.2" y1="359.5" x2="331.5" y2="359.5" stroke="#555" stroke-width="1.0"/>
<text x="326.7" y="361.15000000000003" font-size="6.3" text-anchor="end" fill="#333" stroke="#333" stroke-width="0.18">0.15</text>
<line x1="328.2" y1="341.5" x2="331.5" y2="341.5" stroke="#555" stroke-width="1.0"/>
<text x="326.7" y="343.7" font-size="6.3" text-anchor="end" fill="#333" stroke="#333" stroke-width="0.18">0.20</text>
<line x1="328.2" y1="324.5" x2="331.5" y2="324.5" stroke="#555" stroke-width="1.0"/>
<text x="326.7" y="326.25" font-size="6.3" text-anchor="end" fill="#333" stroke="#333" stroke-width="0.18">0.25</text>
<line x1="331.5" y1="411.5" x2="463.79999999999995" y2="411.5" stroke="#808080" stroke-width="1.0"/>
<line x1="331.5" y1="411.5" x2="331.5" y2="414.0" stroke="#777" stroke-width="1.0"/>
<text x="331.3" y="422.90000000000003" font-size="6.4" text-anchor="middle" fill="#333" stroke="#333" stroke-width="0.18">0.00</text>
<line x1="357.5" y1="411.5" x2="357.5" y2="414.0" stroke="#777" stroke-width="1.0"/>
<text x="357.7" y="422.90000000000003" font-size="6.4" text-anchor="middle" fill="#333" stroke="#333" stroke-width="0.18">0.05</text>
<line x1="384.5" y1="411.5" x2="384.5" y2="414.0" stroke="#777" stroke-width="1.0"/>
<text x="384.1" y="422.90000000000003" font-size="6.4" text-anchor="middle" fill="#333" stroke="#333" stroke-width="0.18">0.10</text>
<line x1="410.5" y1="411.5" x2="410.5" y2="414.0" stroke="#777" stroke-width="1.0"/>
<text x="410.5" y="422.90000000000003" font-size="6.4" text-anchor="middle" fill="#333" stroke="#333" stroke-width="0.18">0.15</text>
<line x1="436.5" y1="411.5" x2="436.5" y2="414.0" stroke="#777" stroke-width="1.0"/>
<text x="436.9" y="422.90000000000003" font-size="6.4" text-anchor="middle" fill="#333" stroke="#333" stroke-width="0.18">0.20</text>
<line x1="463.5" y1="411.5" x2="463.5" y2="414.0" stroke="#777" stroke-width="1.0"/>
<text x="463.29999999999995" y="422.90000000000003" font-size="6.4" text-anchor="middle" fill="#333" stroke="#333" stroke-width="0.18">0.25</text>
<text x="395" y="432.6" font-size="6.6" text-anchor="middle" fill="#333" stroke="#333" stroke-width="0.18">cDC score</text>
<text x="308.6" y="370" font-size="6.6" text-anchor="middle" fill="#333" stroke="#333" stroke-width="0.18" transform="rotate(-90 308.6 370)">CD8 score</text>
<text x="343.3" y="329.6" font-size="6.2" text-anchor="start" fill="#333" stroke="#333" stroke-width="0.18"><tspan font-style="italic">R</tspan><tspan font-size="4.6" dy="-2.9">2</tspan><tspan dy="2.9"> = 0.3532</tspan></text>
<text x="343.3" y="338.0" font-size="6.2" text-anchor="start" fill="#333" stroke="#333" stroke-width="0.18"><tspan font-style="italic">P</tspan> = 0.0028</text>
<line x1="342.5" y1="412" x2="446.5" y2="376.6" stroke="#111" stroke-width="1.3"/>
<circle cx="330.8" cy="411.6" r="2.15" fill="#79b6e0" stroke="#4a80ad" stroke-width="0.55"/>
<circle cx="333.5" cy="410.5" r="2.15" fill="#79b6e0" stroke="#4a80ad" stroke-width="0.55"/>
<circle cx="336.3" cy="410.9" r="2.15" fill="#79b6e0" stroke="#4a80ad" stroke-width="0.55"/>
<circle cx="339.8" cy="409.5" r="2.15" fill="#79b6e0" stroke="#4a80ad" stroke-width="0.55"/>
<circle cx="346.7" cy="406.1" r="2.15" fill="#79b6e0" stroke="#4a80ad" stroke-width="0.55"/>
<circle cx="348.8" cy="405.4" r="2.15" fill="#79b6e0" stroke="#4a80ad" stroke-width="0.55"/>
<circle cx="353.6" cy="408.2" r="2.15" fill="#79b6e0" stroke="#4a80ad" stroke-width="0.55"/>
<circle cx="357.8" cy="408.9" r="2.15" fill="#79b6e0" stroke="#4a80ad" stroke-width="0.55"/>
<circle cx="357.8" cy="412.3" r="2.15" fill="#79b6e0" stroke="#4a80ad" stroke-width="0.55"/>
<circle cx="369.6" cy="409.3" r="2.15" fill="#79b6e0" stroke="#4a80ad" stroke-width="0.55"/>
<circle cx="377.2" cy="406.1" r="2.15" fill="#79b6e0" stroke="#4a80ad" stroke-width="0.55"/>
<circle cx="394.5" cy="403.6" r="2.15" fill="#79b6e0" stroke="#4a80ad" stroke-width="0.55"/>
<circle cx="446.75" cy="400" r="2.15" fill="#79b6e0" stroke="#4a80ad" stroke-width="0.55"/>
<path d="M412.95,336.93L417.05,336.93L415.00,333.38Z" fill="#eba048" stroke="#94642c" stroke-width="0.6" stroke-linejoin="round"/>
<path d="M407.45,365.68L411.55,365.68L409.50,362.13Z" fill="#eba048" stroke="#94642c" stroke-width="0.6" stroke-linejoin="round"/>
<path d="M388.70,379.68L392.80,379.68L390.75,376.13Z" fill="#eba048" stroke="#94642c" stroke-width="0.6" stroke-linejoin="round"/>
<path d="M404.20,392.58L408.30,392.58L406.25,389.03Z" fill="#eba048" stroke="#94642c" stroke-width="0.6" stroke-linejoin="round"/>
<path d="M432.45,391.28L436.55,391.28L434.50,387.73Z" fill="#eba048" stroke="#94642c" stroke-width="0.6" stroke-linejoin="round"/>
<path d="M381.35,413.88L385.45,413.88L383.40,410.33Z" fill="#eba048" stroke="#94642c" stroke-width="0.6" stroke-linejoin="round"/>
<path d="M384.15,411.38L388.25,411.38L386.20,407.83Z" fill="#eba048" stroke="#94642c" stroke-width="0.6" stroke-linejoin="round"/>
<path d="M386.15,413.48L390.25,413.48L388.20,409.93Z" fill="#eba048" stroke="#94642c" stroke-width="0.6" stroke-linejoin="round"/>
<path d="M342.55,413.48L346.65,413.48L344.60,409.93Z" fill="#eba048" stroke="#94642c" stroke-width="0.6" stroke-linejoin="round"/>
<path d="M445.95,340.98L450.05,340.98L448.00,337.43Z" fill="#eba048" stroke="#94642c" stroke-width="0.6" stroke-linejoin="round"/>
<text x="453.3" y="342.0" font-size="6.6" text-anchor="start" fill="#333" stroke="#333" stroke-width="0.18">Responder</text>
<circle cx="448" cy="351.3" r="2.0" fill="#79b6e0" stroke="#4a80ad" stroke-width="0.55"/>
<text x="453.3" y="353.5" font-size="6.6" text-anchor="start" fill="#333" stroke="#333" stroke-width="0.18">Nonresponder</text>
</svg></body></html>
